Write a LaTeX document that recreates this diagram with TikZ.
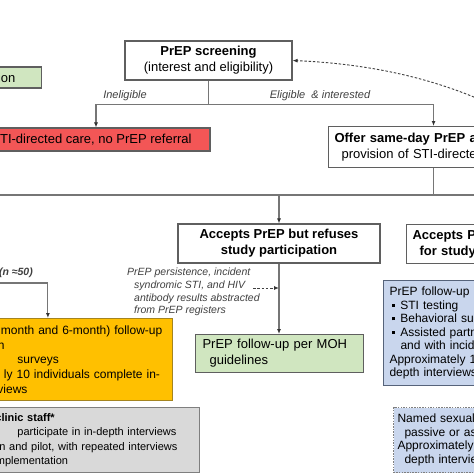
\documentclass[tikz,border=0pt]{standalone}
\usepackage{fontspec}
\setmainfont{Liberation Sans}
\usetikzlibrary{arrows.meta}
\definecolor{boxgray}{HTML}{5F5F5F}
\definecolor{conngray}{HTML}{767676}
\definecolor{labgray}{HTML}{404040}
\definecolor{refred}{HTML}{F35656}
\definecolor{mohgreen}{HTML}{D0E6C0}
\definecolor{fuorange}{HTML}{FFC000}
\definecolor{fuborder}{HTML}{A4841F}
\definecolor{staffgray}{HTML}{D9D9D9}
\definecolor{staffborder}{HTML}{7F7F7F}
\definecolor{studyblue}{HTML}{C9D6ED}
\definecolor{studyborder}{HTML}{56637A}
\newcommand{\sqbul}{\raisebox{2.3pt}{\rule{3.3pt}{3.3pt}}\hspace{5.5pt}}
\begin{document}
\begin{tikzpicture}[x=1pt,y=-1pt,
    box/.style={draw=boxgray,line width=1.1pt,inner sep=0pt,align=center,
      font=\fontsize{13}{16}\selectfont},
    lab/.style={inner sep=0pt,text=labgray,font=\itshape\fontsize{11}{13}\selectfont},
    conn/.style={draw=conngray,line width=1.1pt},
    arr/.style={conn,-{Latex[length=5pt,width=4pt,color=black!80]}},
    dasharr/.style={draw=labgray,line width=0.9pt,dash pattern=on 2.5pt off 1.8pt,
      -{Latex[length=5pt,width=4pt,color=black!80]}}]
  \clip (0,0) rectangle (474,474);
  \fill[white] (0,0) rectangle (474,474);

  \node[box, minimum width=167pt, minimum height=39pt] (scr) at (208.5,60.5)
    {\textbf{PrEP screening}\\(interest and eligibility)};
  \node[box, fill=mohgreen, anchor=east, minimum height=21pt, text width=48pt,
    inner xsep=26pt, align=right] (info) at (42,77.5) {ion};
  \node[box, fill=refred, minimum width=228pt, minimum height=23pt] (noref) at (96,139.5)
    {\hspace*{-9pt}STI-directed care, no PrEP referral};
  \node[box, anchor=north west, minimum height=41pt, text width=198pt, inner xsep=6pt,
    align=left] (offer) at (328,126)
    {\textbf{Offer same-day PrEP and}\\\hspace*{7pt}provision of STI-directed care};
  \node[box, minimum width=202pt, minimum height=39pt,
    font=\bfseries\fontsize{13}{16}\selectfont] (refuse) at (279,243.5)
    {Accepts PrEP but refuses\\study participation};
  \node[box, anchor=north west, minimum height=39pt, text width=150pt, inner xsep=6pt,
    align=left, font=\bfseries\fontsize{13}{16}\selectfont] (accept) at (406,224)
    {Accepts PrEP and\\\hspace*{7pt}for study participation};
  \node[box, fill=mohgreen, anchor=north west, minimum height=38pt, text width=154pt,
    inner xsep=7pt, align=left] (moh) at (195,334)
    {PrEP follow-up per MOH\\\hspace*{7pt}guidelines};
  \node[box, fill=fuorange, draw=fuborder, anchor=north east, minimum height=82pt,
    text width=169pt, inner xsep=4pt, align=left,
    font=\fontsize{12}{14.7}\selectfont] (fu) at (173,318)
    {\hspace*{1.5pt}month and 6-month) follow-up\\\hspace*{-1.5pt}n\\\hspace*{18pt}surveys\\
     \hspace*{4.5pt}ly 10 individuals complete in-\\\hspace*{-2pt}views};
  \node[box, fill=staffgray, draw=staffborder, anchor=north east, minimum height=65pt,
    text width=200pt, inner xsep=4pt, align=left,
    font=\fontsize{11}{14.5}\selectfont] (staff) at (200,407)
    {\textbf{clinic staff*}\\\hspace*{22pt}participate in in-depth interviews\\
     \hspace*{4pt}n and pilot, with repeated interviews\\\hspace*{0.4pt}mplementation};
  \node[box, fill=studyblue, draw=studyborder, anchor=north west, minimum height=105pt,
    text width=230pt, inner xsep=6pt, align=left,
    font=\fontsize{12}{13.5}\selectfont] (study) at (383,280)
    {PrEP follow-up per protocol\\\hspace*{2pt}\sqbul STI testing\\
     \hspace*{2pt}\sqbul Behavioral surveys\\\hspace*{2pt}\sqbul Assisted partner notification\\
     \hspace*{11pt}and with incident STI\\Approximately 10 individuals complete in-\\
     depth interviews};
  \node[box, fill=studyblue, draw=staffborder, dash pattern=on 1.5pt off 1.2pt,
    anchor=north west, minimum height=65pt, text width=200pt, inner xsep=4pt, align=left,
    font=\fontsize{12}{13.5}\selectfont] (partner) at (393,407)
    {Named sexual partners\\\hspace*{7pt}passive or assisted\\Approximately 10\\
     \hspace*{7pt}depth interviews};

  \node[lab] (inel) at (125,96) {Ineligible};
  \node[lab] (elig) at (320,96) {Eligible \ \& interested};
  \node[lab, anchor=east, font=\bfseries\itshape\fontsize{10.5}{12}\selectfont] (nfifty)
    at (33,273) {(n ≈50)};
  \node[lab, anchor=north west, align=left, font=\itshape\fontsize{10.5}{12.7}\selectfont]
    (note) at (127,268) {PrEP persistence, incident\\\hspace*{7pt}syndromic STI, and HIV\\
     \hspace*{7pt}antibody results abstracted\\\hspace*{7pt}from PrEP registers};

  \draw[conn] (scr.south) -- ++(0,23.5) coordinate (fork);
  \draw[arr] (fork) -| (noref.north);
  \draw[arr] (fork) -| (offer.north);
  \coordinate (back) at (490,104);
  \draw[dasharr] (back) .. controls (420,72) and (350,63) .. (scr.east);
  \coordinate (busL) at (-5,195);
  \coordinate (busR) at (480,195);
  \draw[conn] (busL) -- (busR);
  \draw[conn] (offer.south) -- (offer.south |- busR);
  \draw[arr] (refuse.north |- busR) -- (refuse.north);
  \draw[arr] (refuse.south) -- (moh.north -| refuse.south);
  \coordinate (left50) at (-5,283);
  \draw[arr] (left50) -| ([xshift=53pt]fu.north west);
  \coordinate (notetip) at (253,288);
  \draw[dasharr] (notetip) -- (notetip -| refuse.south);
\end{tikzpicture}
\end{document}
